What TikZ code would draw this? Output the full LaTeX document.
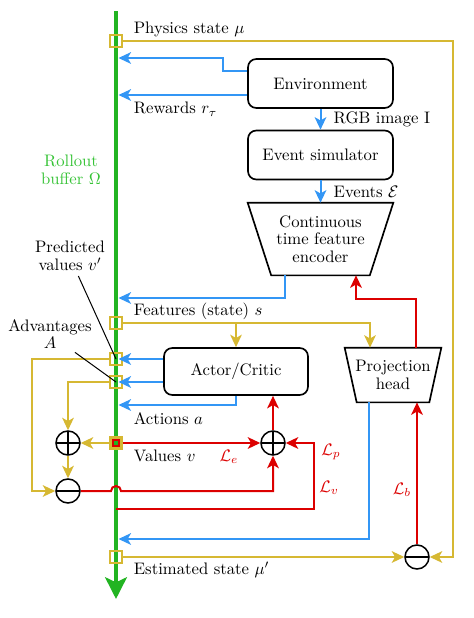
\documentclass[tikz,border=0pt]{standalone}
\usepackage{amsmath, amssymb}
\usetikzlibrary{arrows.meta, calc}
\definecolor{bufgreen}{RGB}{34, 180, 34}
\definecolor{textgreen}{RGB}{55, 195, 55}
\definecolor{flowblue}{RGB}{51, 150, 245}
\definecolor{stateyellow}{RGB}{214, 184, 50}
\definecolor{lossred}{RGB}{220, 0, 0}

\begin{document}
\begin{tikzpicture}[x=0.6pt, y=-0.6pt, font=\fontsize{10}{10.5}\selectfont,
    box/.style={draw, line width=1pt, rounded corners=5pt, minimum width=87pt, minimum height=29.4pt},
    tip/.style={-{Stealth[length=7.5pt, width=7pt, inset=2pt]}},
    barr/.style={tip, draw=flowblue, line width=1.2pt},
    yarr/.style={tip, draw=stateyellow, line width=0.9pt},
    rarr/.style={tip, draw=lossred, line width=1.2pt},
    ysq/.style={draw=stateyellow, line width=1pt, minimum size=7.2pt, inner sep=0},
    op/.style={circle, draw, line width=0.9pt, minimum size=14.4pt, inner sep=0},
    oplus/.style={op, path picture={\draw[line width=0.9pt] (path picture bounding box.north) -- (path picture bounding box.south) (path picture bounding box.west) -- (path picture bounding box.east);}},
    ominus/.style={op, path picture={\draw[line width=0.9pt] (path picture bounding box.west) -- (path picture bounding box.east);}},
    lbl/.style={anchor=west}]
    \useasboundingbox (0,0) rectangle (474,618);

    % Rollout buffer
    \coordinate (bartop) at (116,11);
    \coordinate (barbot) at (116,599);
    \draw[bufgreen, line width=2.8pt, -{Stealth[length=13pt, width=13pt, inset=3pt]}] (bartop) -- (barbot);
    \node[textgreen, align=center] (lbuf) at (71,170) {Rollout\\buffer $\Omega$};
    \foreach \n/\y in {rw1/58, rw2/95, feat/298, pred/359, adv/382, act/405, est/539} {
        \coordinate (in\n) at (118.5,\y);
    }

    % Blocks
    \node[box] (env) at (320.5,83.5) {Environment};
    \node[box] (sim) at (320.5,155) {Event simulator};
    \node[align=center, minimum width=87pt, minimum height=43.2pt, inner sep=0] (enc) at (320.5,239) {Continuous\\time feature\\encoder};
    \draw[line width=1pt] (enc.north west) -- (enc.north east) -- ($(enc.south east)+(-23.5,0)$) -- ($(enc.south west)+(23.5,0)$) -- cycle;
    \node[box, minimum width=86.4pt, minimum height=28.2pt] (ac) at (236,371.5) {Actor/Critic};
    \node[align=center, minimum width=57.6pt, minimum height=32.4pt, inner sep=0] (proj) at (393,375) {Projection\\head};
    \draw[line width=1pt] (proj.north west) -- (proj.north east) -- ($(proj.south east)+(-12,0)$) -- ($(proj.south west)+(12,0)$) -- cycle;

    % Operators
    \node[oplus] (plus1) at (68,443) {};
    \node[ominus] (minus1) at (68,491) {};
    \node[oplus] (plus2) at (273,443) {};
    \node[ominus] (minus2) at (417,557) {};

    % Buffer entries
    \foreach \n/\y in {phys/41, feat/323, pred/359, adv/382, est/557} {
        \node[ysq] (sq\n) at (116,\y) {};
    }
    \node[ysq, fill=stateyellow] (sqval) at (116,443) {};
    \node[draw=lossred, fill=bufgreen, line width=1pt, minimum size=3.6pt, inner sep=0] (sqvalin) at (sqval) {};
    \coordinate (rgt) at (453,41);
    \coordinate (lft) at (32,359);
    \coordinate (lvstart) at (116,509);

    % Labels
    \node[lbl] (lphys) at (128,29) {Physics state $\mu$};
    \node[lbl] (lrew) at (128,109) {Rewards $r_\tau$};
    \node[lbl] (lfeat) at (128,311) {Features (state) $s$};
    \node[lbl] (lact) at (128,419) {Actions $a$};
    \node[lbl] (lval) at (128,456) {Values $v$};
    \node[lbl] (lest) at (128,570) {Estimated state $\mu'$};
    \node[align=center, inner sep=1pt] (lpred) at (70,256) {Predicted\\values $v'$};
    \node[align=center, inner sep=1pt] (ladv) at (50,334) {Advantages\\$A$};
    \node[lossred] (le) at (229,457) {$\mathcal{L}_e$};
    \node[lossred] (lp) at (331,452) {$\mathcal{L}_p$};
    \node[lossred] (lv) at (329,488) {$\mathcal{L}_v$};
    \node[lossred] (lb) at (402,490) {$\mathcal{L}_b$};

    % Observation path
    \draw[barr] ($(env.west)+(0,-12.5)$) -- ++(-24,0) |- (inrw1);
    \draw[barr] ($(env.west)+(0,11.5)$) -- (inrw2);
    \draw[barr] (env) -- node[right=4pt] {RGB image I} (sim);
    \draw[barr] (sim) -- node[right=4pt] {Events $\mathcal{E}$} (enc);
    \draw[barr] ($(enc.south)+(-35.5,0)$) |- (infeat);
    \draw[barr] ($(ac.west)+(0,-12.5)$) -- (inpred);
    \draw[barr] ($(ac.west)+(0,10.5)$) -- (inadv);
    \draw[barr] (ac.south) |- (inact);
    \draw[barr] ($(proj.south)+(-24.5,0)$) |- (inest);

    % States
    \draw[yarr] (sqphys.east) -- (rgt) |- (minus2.east);
    \draw[yarr] (sqfeat.east) -| ($(proj.north)+(-23,0)$);
    \draw[yarr] (ac.north |- sqfeat.east) -- (ac.north);
    \draw[yarr] (sqest.east) -- (minus2.west);
    \draw[yarr] (sqval.west) -- (plus1.east);
    \draw[yarr] (sqadv.west) -| (plus1.north);
    \draw[yarr] (plus1.south) -- (minus1.north);
    \draw[yarr] (sqpred.west) -- (lft) |- (minus1.west);

    % Losses
    \draw[rarr] (sqval.east) -- (plus2.west);
    \draw[rarr] (minus1.east) -- ($(minus1.east -| bartop)+(-5,0)$) arc[start angle=180, end angle=360, radius=5] -| (plus2.south);
    \draw[rarr] (lvstart) -- ++(198,0) |- (plus2.east);
    \draw[rarr] (plus2.north) -- (ac.south -| plus2.north);
    \draw[rarr] (minus2.north) -- (minus2.north |- proj.south);
    \draw[rarr] ($(proj.north)+(23,0)$) -- ++(0,-49) -| ($(enc.south)+(35.5,0)$);

    % Pointers
    \draw[line width=0.6pt] ([xshift=5pt, yshift=-2pt]lpred.south) -- (sqpred.center);
    \draw[line width=0.6pt] ([xshift=15pt, yshift=-1pt]ladv.south) -- (sqadv.center);
\end{tikzpicture}
\end{document}
